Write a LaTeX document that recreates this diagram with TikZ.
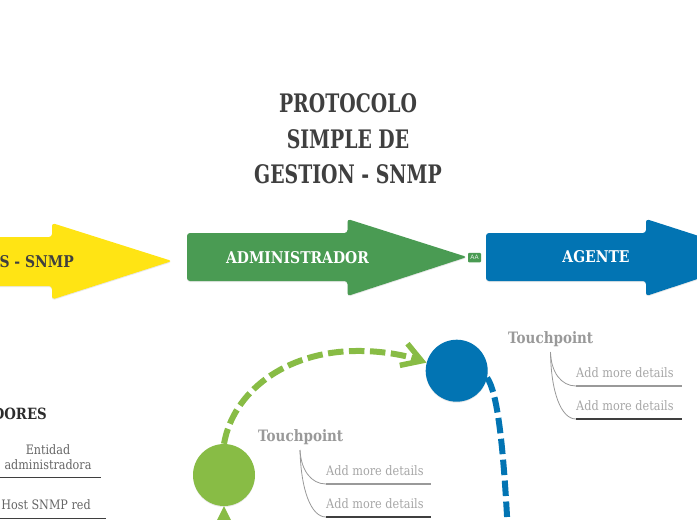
\documentclass[tikz,border=0pt]{standalone}
\usepackage{fontspec}
\setmainfont{DejaVu Serif}
\newfontfamily\slab[FakeStretch=0.86]{DejaVu Serif}
\newfontfamily\titlefont[FakeStretch=0.74]{DejaVu Serif}
\newfontfamily\badgefont{DejaVu Sans}
\usetikzlibrary{arrows.meta,shadows}
\definecolor{yel}{HTML}{FFE414}
\definecolor{grn}{HTML}{4A9B53}
\definecolor{blu}{HTML}{0274B3}
\definecolor{lime}{HTML}{88BC45}
\definecolor{ink}{HTML}{3F3F3F}
\definecolor{tp}{HTML}{999999}
\definecolor{det}{HTML}{A6A6A6}
\tikzset{
  bigarrow/.style={rounded corners=3pt,drop shadow={opacity=.18,shadow xshift=0pt,shadow yshift=-1pt}},
  arrowlabel/.style={font=\slab\bfseries\fontsize{16.2}{18}\selectfont,inner sep=0pt,text=white},
  titletext/.style={font=\titlefont\bfseries\fontsize{25.5}{35.5}\selectfont,align=center,text=ink,inner sep=0pt},
  disc/.style={circle,minimum size=62pt,inner sep=0pt,drop shadow={opacity=.18,shadow xshift=0pt,shadow yshift=-1pt}},
  touch/.style={font=\slab\bfseries\fontsize{15.7}{18}\selectfont,text=tp,inner sep=0pt,anchor=west},
  detail/.style={font=\slab\fontsize{13.1}{15}\selectfont,text=det,inner sep=0pt,anchor=west},
  subitem/.style={font=\slab\fontsize{13}{15}\selectfont,text=ink!80,inner sep=0pt,align=center},
  branch/.style={draw=tp,line width=.8pt},
  dashline/.style={line width=6pt,dash pattern=on 15.5pt off 5.5pt},
}
\begin{document}
\begin{tikzpicture}[x=1pt,y=-1pt]
\useasboundingbox (0,0) rectangle (697,520);
\clip (0,0) rectangle (697,520);

\node[titletext] (title) at (348,139) {PROTOCOLO\\SIMPLE DE\\GESTION - SNMP};

% block arrows
\path[bigarrow,fill=yel] (-100,237) -- (52,237) -- (52,223) -- (172,261) -- (52,299.5) -- (52,286) -- (-100,286) -- cycle;
\path[bigarrow,fill=grn] (187,233) -- (347.5,233) -- (347.5,219) -- (467,257) -- (347.5,296) -- (347.5,281) -- (187,281) -- cycle;
\path[bigarrow,fill=blu] (486,233) -- (646,233) -- (646,219) -- (764,257) -- (646,296) -- (646,281) -- (486,281) -- cycle;

\node[arrowlabel,text=ink,anchor=east] (lyel) at (74,262) {ES - SNMP};
\node[arrowlabel] (lgrn) at (297.5,258) {ADMINISTRADOR};
\node[arrowlabel] (lblu) at (596,257) {AGENTE};

\node[fill=grn,rounded corners=1pt,minimum width=13pt,minimum height=9.5pt,inner sep=0pt,text=white!85!grn,font=\badgefont\fontsize{6}{7}\selectfont] (badge) at (474.5,257.5) {AA};

% discs
\node[disc,fill=lime] (gc) at (224,475) {};
\node[disc,fill=blu] (bc) at (456.7,370.7) {};
\coordinate (bend) at (507.5,525);
\coordinate (g1) at (355,351);
\path[fill=lime] (224,506) -- (231.5,521) -- (216.5,521) -- cycle;

% dashed connectors
\draw[dashline,draw=lime,-{Straight Barb[length=19pt,width=23pt,line width=5.5pt]}]
  (gc.north) .. controls (233,392) and (285,352) .. (g1) .. controls (380,350.5) and (405,355) .. (bc.165);
\draw[dashline,draw=blu] (bc.-13) .. controls (497,392) and (503,440) .. (bend);

% touchpoint 1
\node[touch] (t1) at (258,437) {Touchpoint};
\node[detail] (d11) at (326,471) {Add more details};
\node[detail] (d12) at (326,504) {Add more details};
\coordinate (t1r) at (300,450);
\coordinate (l11) at (326,484);
\coordinate (l12) at (326,517);
\coordinate (l11e) at (431,484);
\coordinate (l12e) at (431,517);
\draw[branch] (t1r) .. controls (301,470) and (311,484) .. (l11);
\draw[branch] (t1r) .. controls (301,490) and (311,517) .. (l12);
\draw[draw=tp,line width=1.2pt] (l11) -- (l11e);
\draw[draw=ink,line width=1.1pt] (l12) -- (l12e);

% touchpoint 2
\node[touch] (t2) at (508,339) {Touchpoint};
\node[detail] (d21) at (576,373) {Add more details};
\node[detail] (d22) at (576,406) {Add more details};
\coordinate (t2r) at (550.5,352);
\coordinate (l21) at (576,386);
\coordinate (l22) at (576,419);
\coordinate (l21e) at (682,386);
\coordinate (l22e) at (682,419);
\draw[branch] (t2r) .. controls (551,372) and (561,386) .. (l21);
\draw[branch] (t2r) .. controls (551,392) and (561,419) .. (l22);
\draw[draw=tp,line width=1.2pt] (l21) -- (l21e);
\draw[draw=ink,line width=1.1pt] (l22) -- (l22e);

% left list
\node[font=\slab\bfseries\fontsize{15.5}{18}\selectfont,text=ink!70!black,inner sep=0pt,anchor=east] (ldr) at (47,414) {DORES};
\node[subitem] (e1) at (48,457.5) {Entidad\\administradora};
\node[subitem] (e2) at (46,505) {Host SNMP red};
\coordinate (u1a) at (0,477);
\coordinate (u1b) at (101,477);
\coordinate (u2a) at (0,518);
\coordinate (u2b) at (106,518);
\draw[draw=ink,line width=1pt] (u1a) -- (u1b);
\draw[draw=ink,line width=1pt] (u2a) -- (u2b);
\end{tikzpicture}
\end{document}
